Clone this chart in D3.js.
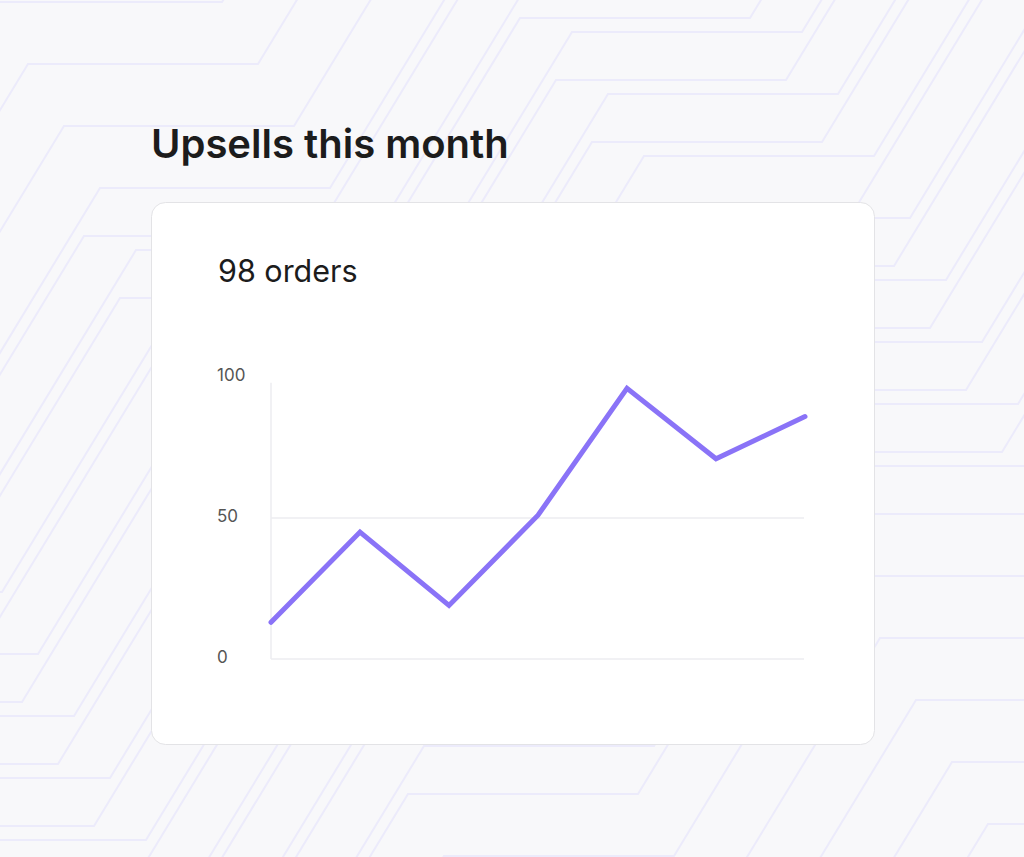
<!DOCTYPE html>
<html>
<head>
<meta charset="utf-8">
<script src="https://cdn.jsdelivr.net/npm/d3@7"></script>
<style>
  body { margin: 0; background: #f8f8fa; }
  svg { display: block; font-family: Inter, "Noto Sans", sans-serif; }
</style>
</head>
<body>
<svg id="chart" width="1024" height="857"></svg>
<script>
// 数据
const days = [1, 2, 3, 4, 5, 6, 7];
const orders = [13, 45, 19, 51, 96, 71, 86];
const yTicks = [0, 50, 100];

const svg = d3.select("#chart");

// 背景装饰线
const bg = svg.append("g")
    .attr("fill", "none")
    .attr("stroke", "#ecebfb")
    .attr("stroke-width", 2);
const step = d => {
    // 阶梯状折线: 斜线 + 水平线
    const pts = [];
    let x = d.x, y = d.y;
    pts.push([x, y]);
    for (let i = 0; i < 5; i++) {
        x += 230; pts.push([x, y]);
        x += 170; y -= 280; pts.push([x, y]);
    }
    return d3.line()(pts);
};
const starts = [];
for (let i = -6; i < 10; i++) starts.push({ x: -300 + i * 36, y: 468 + i * 62 });
for (let i = -6; i < 10; i++) starts.push({ x: -900 + i * 36, y: 1448 + i * 62 });
bg.selectAll("path").data(starts).join("path").attr("d", step);

// 标题
svg.append("text")
    .attr("x", 151).attr("y", 158)
    .attr("font-size", 40).attr("font-weight", 600)
    .attr("fill", "#1c1c1c")
    .text("Upsells this month");

// 卡片
svg.append("rect")
    .attr("x", 151.5).attr("y", 202.5)
    .attr("width", 723).attr("height", 542)
    .attr("rx", 14)
    .attr("fill", "#fff")
    .attr("stroke", "#e3e3e6");

svg.append("text")
    .attr("x", 218).attr("y", 282)
    .attr("font-size", 30.5)
    .attr("fill", "#1c1c1c")
    .text("98 orders");

// 比例尺
const xScale = d3.scaleLinear().domain([1, 7]).range([271, 805]);
const yScale = d3.scaleLinear().domain([0, 100]).range([659, 377]);

// 网格线
svg.append("g")
    .selectAll("line")
    .data(yTicks.filter(t => t < 100))
    .join("line")
    .attr("x1", 271).attr("x2", 804)
    .attr("y1", d => yScale(d)).attr("y2", d => yScale(d))
    .attr("stroke", "#ececf0").attr("stroke-width", 1.5);

// Y轴线
svg.append("line")
    .attr("x1", 271).attr("x2", 271)
    .attr("y1", yScale(98)).attr("y2", yScale(0))
    .attr("stroke", "#ececf0").attr("stroke-width", 1.5);

// Y轴标签
svg.append("g")
    .selectAll("text")
    .data(yTicks)
    .join("text")
    .attr("x", 217)
    .attr("y", d => yScale(d) + 4)
    .attr("font-size", 17)
    .attr("fill", "#555")
    .text(d => d);

// 折线
const line = d3.line()
    .x((d, i) => xScale(days[i]))
    .y(d => yScale(d));

svg.append("path")
    .datum(orders)
    .attr("fill", "none")
    .attr("stroke", "#8a73f7")
    .attr("stroke-width", 5)
    .attr("stroke-linejoin", "miter")
    .attr("stroke-linecap", "round")
    .attr("d", line);
</script>
</body>
</html>
